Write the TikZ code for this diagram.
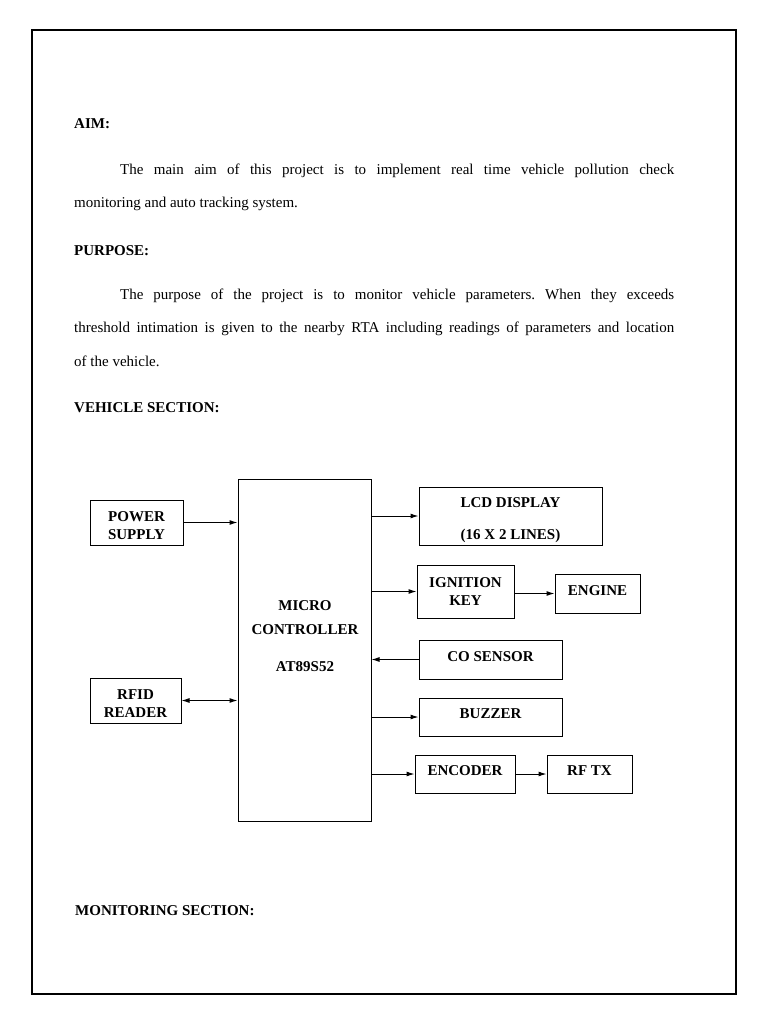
\documentclass[tikz,border=0pt]{standalone}
\usepackage{fontspec}
\setmainfont{Liberation Serif}
\usetikzlibrary{arrows.meta}

\newcommand{\pagefont}{\fontsize{15}{17}\selectfont\frenchspacing}

\tikzset{
  blk/.style={draw, line width=1pt, font=\pagefont\bfseries, align=center, inner sep=0pt},
  one/.style={text height=10pt, text depth=7pt},
  txt/.style={anchor=base west, inner sep=0pt, font=\pagefont},
  hd/.style={anchor=base west, inner sep=0pt, font=\pagefont\bfseries},
  arr/.style={-{Latex[length=8pt,width=5pt]}, line width=1pt},
  darr/.style={{Latex[length=8pt,width=5pt]}-{Latex[length=8pt,width=5pt]}, line width=1pt}
}

\begin{document}
\begin{tikzpicture}[x=1pt, y=-1pt]
        \useasboundingbox (0,0) rectangle (768,1024);
        \draw[line width=1.2pt] (32,30) rectangle (736,994);

        % text of the page
        \node[hd] (aim) at (74,129) {AIM:};
        \node[txt] (aim1) at (120,175) {\hbox to 554pt{The main aim of this project is to implement real time vehicle pollution check}};
        \node[txt] (aim2) at (74,208) {monitoring and auto tracking system.};
        \node[hd] (pur) at (74,255) {PURPOSE:};
        \node[txt] (pur1) at (120,299) {\hbox to 554pt{The purpose of the project is to monitor vehicle parameters. When they exceeds}};
        \node[txt] (pur2) at (74,332) {\hbox to 600pt{threshold intimation is given to the nearby RTA including readings of parameters and location}};
        \node[txt] (pur3) at (74,366) {of the vehicle.};
        \node[hd] (veh) at (74,412) {VEHICLE SECTION:};
        \node[hd] (mon) at (75,915) {MONITORING SECTION:};

        % blocks
        \node[blk, minimum width=133, minimum height=342] (mc) at (304.5,650) {};
        \node[font=\pagefont\bfseries, align=center] (mct) at (305,636) {MICRO\\[7pt]CONTROLLER\\[20pt]AT89S52};
        \node[blk, minimum width=93, minimum height=45] (ps) at (136.5,522.5) {\rule{0pt}{16.5pt}POWER\\[1pt]SUPPLY};
        \node[blk, minimum width=91, minimum height=45] (rfid) at (135.5,700.5) {\rule{0pt}{16.5pt}RFID\\[1pt]READER};
        \node[blk, minimum width=183, minimum height=58] (lcd) at (510.5,516) {\rule{0pt}{18.5pt}LCD DISPLAY\\[15pt](16 X 2 LINES)};
        \node[blk, minimum width=97, minimum height=53] (ign) at (465.5,591.5) {IGNITION\\[1pt]KEY};
        \node[blk, one, minimum width=85, minimum height=39] (eng) at (597.5,593.5) {ENGINE};
        \node[blk, one, minimum width=143, minimum height=39] (co) at (490.5,659.5) {CO SENSOR};
        \node[blk, one, minimum width=143, minimum height=38] (buz) at (490.5,717) {BUZZER};
        \node[blk, one, minimum width=100, minimum height=38] (enc) at (465,774) {ENCODER};
        \node[blk, one, minimum width=85, minimum height=38] (rf) at (589.5,774) {RF TX};

        % connections
        \draw[arr] (ps.east) to (ps.east -| mc.west);
        \draw[darr] (rfid.east) to (rfid.east -| mc.west);
        \draw[arr] (lcd.west -| mc.east) to (lcd.west);
        \draw[arr] (ign.west -| mc.east) to (ign.west);
        \draw[arr] (ign.east |- eng.west) to (eng.west);
        \draw[arr] (co.west) to (co.west -| mc.east);
        \draw[arr] (buz.west -| mc.east) to (buz.west);
        \draw[arr] (enc.west -| mc.east) to (enc.west);
        \draw[arr] (enc.east) to (rf.west);
      \end{tikzpicture}
\end{document}
